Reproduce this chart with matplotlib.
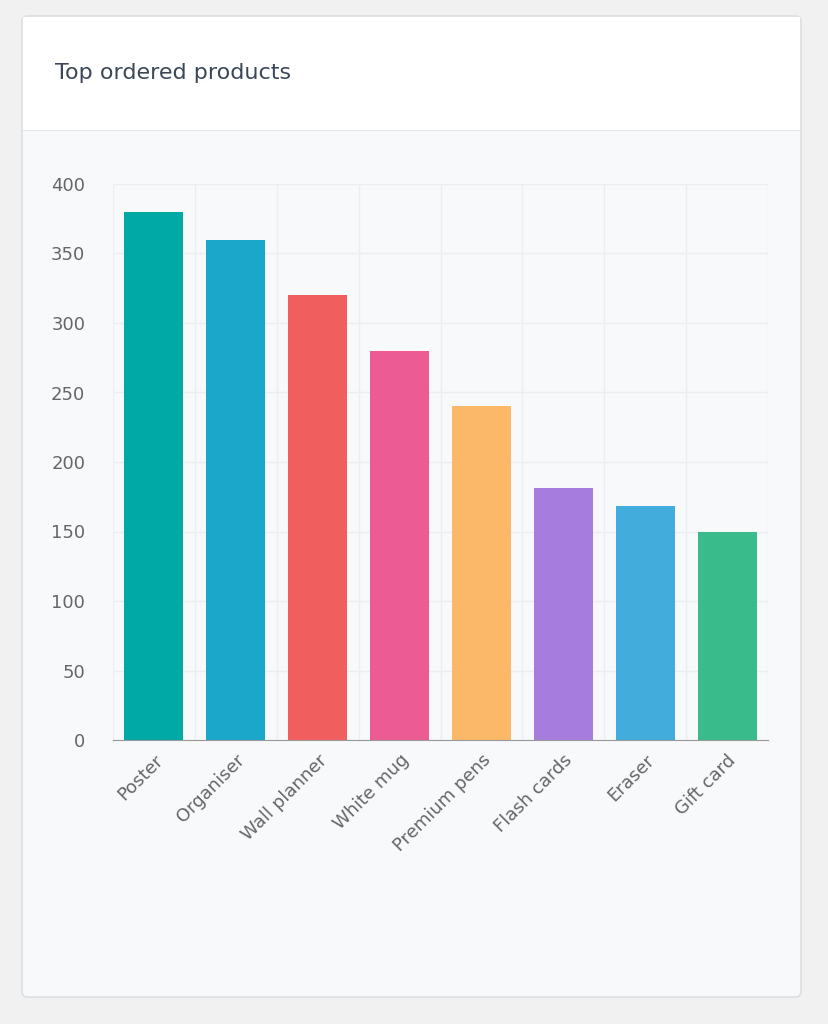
import matplotlib.pyplot as plt
from matplotlib.patches import FancyBboxPatch, Rectangle

products = ['Poster', 'Organiser', 'Wall planner', 'White mug',
            'Premium pens', 'Flash cards', 'Eraser', 'Gift card']
orders = [380, 360, 320, 280, 240, 181, 168, 150]
colors = ['#00a9a5', '#1ba7c9', '#f05f5e', '#ec5b93',
          '#fcb869', '#a67dde', '#42acdd', '#39bb8b']

W, H = 829, 1024
fig = plt.figure(figsize=(W / 100, H / 100), dpi=100)
fig.patch.set_facecolor('#f1f1f1')

# card background
card = FancyBboxPatch((22 / W, 1 - 997 / H), 779 / W, 981 / H,
                      boxstyle='round,pad=0,rounding_size=0.006',
                      transform=fig.transFigure, facecolor='#f8f9fb',
                      edgecolor='#dcdfe3', linewidth=1.2, zorder=-2)
fig.patches.append(card)
header = Rectangle((23 / W, 1 - 130 / H), 777 / W, 113 / H,
                   transform=fig.transFigure, facecolor='white',
                   edgecolor='none', zorder=-1)
fig.patches.append(header)
fig.add_artist(plt.Line2D([22 / W, 801 / W], [1 - 130 / H, 1 - 130 / H],
                          color='#e0e3e7', linewidth=1.2, zorder=-1))
fig.text(55 / W, 1 - 73 / H, 'Top ordered products', fontsize=16,
         color='#3c4858', va='center', ha='left')

ax = fig.add_axes([113 / W, 1 - 740 / H, 655 / W, 556 / H])
ax.set_zorder(5)
ax.patch.set_visible(False)
x = range(len(products))
ax.bar(x, orders, width=0.72, color=colors, zorder=3)
ax.set_xlim(-0.5, len(products) - 0.5)
ax.set_ylim(0, 400)
ax.set_yticks(range(0, 401, 50))
ax.set_xticks(list(x))
ax.set_xticklabels(products, rotation=45, ha='right', rotation_mode='anchor')
ax.tick_params(axis='both', labelsize=13, colors='#666666', length=0, pad=8)
ax.tick_params(axis='y', pad=20)
for i in range(len(products) + 1):
    ax.axvline(i - 0.5, color='#ebedf0', linewidth=1, zorder=1)
ax.grid(axis='y', color='#ebedf0', linewidth=1, zorder=1)
for s in ['top', 'right', 'left']:
    ax.spines[s].set_visible(False)
ax.spines['bottom'].set_color('#999999')
ax.spines['bottom'].set_zorder(4)

fig.savefig('out.png', dpi=100, facecolor=fig.get_facecolor())
